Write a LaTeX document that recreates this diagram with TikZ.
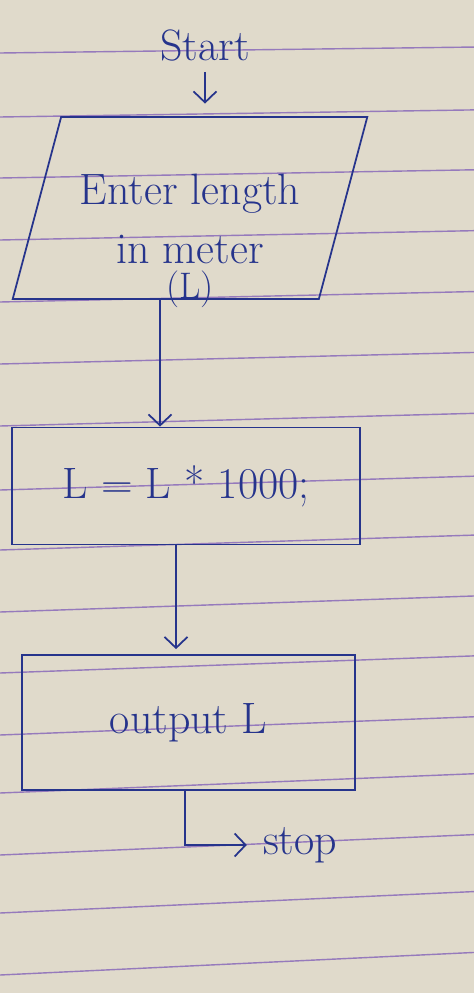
\documentclass[tikz,border=0pt]{standalone}
\usepackage{tikz}
\usetikzlibrary{shapes,arrows.meta,positioning,calc}
\usepackage{xcolor}
\definecolor{paper}{RGB}{224,218,203}
\definecolor{ruleline}{RGB}{150,122,188}
\definecolor{ink}{RGB}{38,52,140}

\begin{document}
\begin{tikzpicture}[
    every node/.style={text=ink, font=\fontsize{25}{30}\selectfont},
    io/.style={draw=ink, line width=1pt, trapezium, trapezium left angle=75, trapezium right angle=105,
        trapezium stretches=true, minimum width=7.1cm, minimum height=3.64cm, align=center},
    box/.style={draw=ink, line width=1pt, rectangle, align=center},
    arr/.style={-{Straight Barb[length=2.2mm,width=4.6mm]}, draw=ink, line width=1pt}
]
    % Paper
    \useasboundingbox (0,0) rectangle (9.48,-19.86);
    \fill[paper] (0,0) rectangle (9.48,-19.86);
    \foreach \y in {53,117,178,240,302,364,426,490,550,612,673,735,793,855,913,975}
        \draw[ruleline, line width=0.8pt] (0,{-\y/50}) -- (9.48,{-(\y-5-0.018*\y)/50});

    % Flow
    \node (start) at (4.1,-0.9) {Start};
    \node[io] (input) at (3.8,-4.16)
        {\raisebox{-25pt}[43pt][43pt]{\begin{tabular}{@{}c@{}}Enter length\\[4pt]in meter\\[-10pt]{\fontsize{21}{24}\selectfont(L)}\end{tabular}}};
    \node[box, minimum width=6.96cm, minimum height=2.34cm] (proc) at (3.72,-9.72) {L = L * 1000;};
    \node[box, minimum width=6.66cm, minimum height=2.7cm] (outp) at (3.77,-14.45) {output L};
    \node (stop) at (6.0,-16.9) {stop};

    % Arrows
    \draw[arr, shorten <=0.1cm, shorten >=0.25cm] (start) -- (start |- input.north);
    \draw[arr] ([xshift=-0.6cm]input.south) -- ([xshift=-0.6cm]input.south |- proc.north);
    \draw[arr, shorten >=0.1cm] ([xshift=-0.2cm]proc.south) -- ([xshift=-0.2cm]proc.south |- outp.north);
    \draw[arr, shorten >=0.2cm] ([xshift=-0.07cm]outp.south) |- (stop.west);
\end{tikzpicture}
\end{document}
